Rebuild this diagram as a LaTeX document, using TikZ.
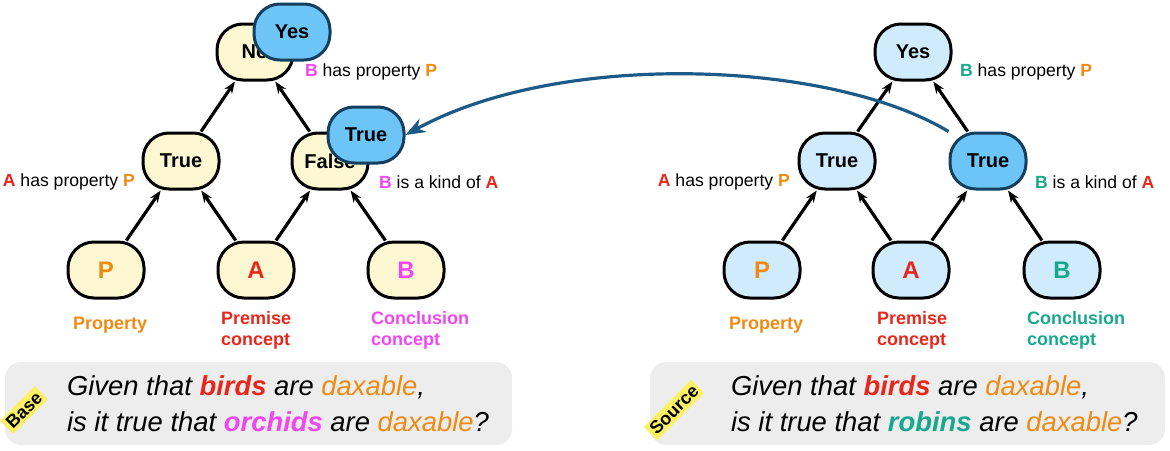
\documentclass[tikz,border=0pt]{standalone}
\usepackage{fontspec}
\setmainfont{Liberation Sans}
\usetikzlibrary{positioning, arrows.meta}
\definecolor{cream}{HTML}{FDF8D2}
\definecolor{pale}{HTML}{CFEBFC}
\definecolor{sky}{HTML}{6CC4F7}
\definecolor{red}{HTML}{E8271C}
\definecolor{orng}{HTML}{F08A12}
\definecolor{pink}{HTML}{F048F0}
\definecolor{teal}{HTML}{17A88E}
\definecolor{navy}{HTML}{1C5A88}
\definecolor{boxgray}{HTML}{EDEDED}
\tikzset{
    var/.style={draw, line width=1.5pt, rounded corners=13pt, minimum width=38pt, minimum height=28pt, font=\bfseries\fontsize{10}{12}\selectfont},
    hot/.style={var, fill=sky, draw=navy!70!black},
    lab/.style={font=\fontsize{8.8}{10}\selectfont},
    note/.style={font=\bfseries\fontsize{9}{10.5}\selectfont, align=left},
    up/.style={-{Stealth[length=6pt]}, line width=1.6pt},
}
\begin{document}
\begin{tikzpicture}[x=0.5pt, y=-0.5pt]
\useasboundingbox (0,0) rectangle (1170,450);
% base model
\node[var, fill=cream] (bno) at (255,52) {No};
\node[var, fill=cream] (bt1) at (181,161) {True};
\node[var, fill=cream] (bf) at (330,161) {False};
\node[var, fill=cream, text=orng, font=\bfseries\fontsize{12}{14}\selectfont] (bp) at (106,270) {P};
\node[var, fill=cream, text=red, font=\bfseries\fontsize{12}{14}\selectfont] (ba) at (256,270) {A};
\node[var, fill=cream, text=pink, font=\bfseries\fontsize{12}{14}\selectfont] (bb) at (406,270) {B};
\draw[up] (bp) -- (bt1);
\draw[up] (ba) -- (bt1);
\draw[up] (ba) -- (bf);
\draw[up] (bb) -- (bf);
\draw[up] (bt1) -- (bno);
\draw[up] (bf) -- (bno);
\node[hot] (byes) at (292,32) {Yes};
\node[hot] (btrue) at (366,135) {True};
\node[lab, anchor=west] at (298,72) {\textbf{\color{pink}B} has property \textbf{\color{orng}P}};
\node[lab, anchor=east] at (142,182) {\textbf{\color{red}A} has property \textbf{\color{orng}P}};
\node[lab, anchor=west] at (372,182) {\textbf{\color{pink}B} is a kind of \textbf{\color{red}A}};
\node[note, text=orng, anchor=north west] at (66,310) {Property};
\node[note, text=red, anchor=north west] at (214,304) {Premise\\concept};
\node[note, text=pink, anchor=north west] at (364,304) {Conclusion\\concept};
\fill[boxgray] (5,362) [rounded corners=8pt] rectangle (512,445);
\node[fill=yellow!90!orange!60, rotate=45, font=\bfseries\fontsize{9}{10}\selectfont, inner sep=1.5pt] at (24,410) {Base};
\node[anchor=west, align=left, font=\itshape\fontsize{13.7}{18}\selectfont] at (60,404)
    {Given that \textbf{\color{red}birds} are {\color{orng}daxable},\\is it true that \textbf{\color{pink}orchids} are {\color{orng}daxable}?};
% source model
\node[var, fill=pale] (syes) at (913,52) {Yes};
\node[var, fill=pale] (st1) at (837,161) {True};
\node[hot] (st2) at (988,161) {True};
\node[var, fill=pale, text=orng, font=\bfseries\fontsize{12}{14}\selectfont] (sp) at (762,270) {P};
\node[var, fill=pale, text=red, font=\bfseries\fontsize{12}{14}\selectfont] (sa) at (911,270) {A};
\node[var, fill=pale, text=teal, font=\bfseries\fontsize{12}{14}\selectfont] (sb) at (1062,270) {B};
\draw[up] (sp) -- (st1);
\draw[up] (sa) -- (st1);
\draw[up] (sa) -- (st2);
\draw[up] (sb) -- (st2);
\draw[up] (st1) -- (syes);
\draw[up] (st2) -- (syes);
\node[lab, anchor=west] at (953,72) {\textbf{\color{teal}B} has property \textbf{\color{orng}P}};
\node[lab, anchor=east] at (797,182) {\textbf{\color{red}A} has property \textbf{\color{orng}P}};
\node[lab, anchor=west] at (1028,182) {\textbf{\color{teal}B} is a kind of \textbf{\color{red}A}};
\node[note, text=orng, anchor=north west] at (722,310) {Property};
\node[note, text=red, anchor=north west] at (870,304) {Premise\\concept};
\node[note, text=teal, anchor=north west] at (1020,304) {Conclusion\\concept};
\fill[boxgray] (650,362) [rounded corners=8pt] rectangle (1165,445);
\node[fill=yellow!90!orange!60, rotate=45, font=\bfseries\fontsize{9}{10}\selectfont, inner sep=1.5pt] at (674,410) {Source};
\node[anchor=west, align=left, font=\itshape\fontsize{13.7}{18}\selectfont] at (724,404)
    {Given that \textbf{\color{red}birds} are {\color{orng}daxable},\\is it true that \textbf{\color{teal}robins} are {\color{orng}daxable}?};
% interchange arrow
\draw[navy, line width=1.6pt, -{Stealth[length=10pt]}] (st2.north west) .. controls (830,60) and (560,50) .. (btrue.east);
\end{tikzpicture}
\end{document}
